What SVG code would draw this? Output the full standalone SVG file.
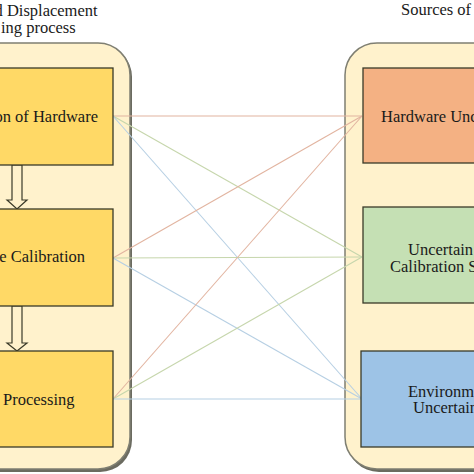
<svg xmlns="http://www.w3.org/2000/svg" width="474" height="474" viewBox="0 0 474 474">
<style>
text{font-family:"Liberation Serif","Times New Roman",serif;font-size:16.5px;fill:#1a1a1a}
.cont{fill:#FFF2CC;stroke:#7f7f72;stroke-width:1.5}
.shadow{fill:#6b6b60}
.box{stroke:#3a3a28;stroke-width:1.3}
.arr{fill:#FFF2CC;stroke:#3a3a28;stroke-width:1.2}
.c line{stroke-width:1.1}
.o{stroke:#e2b4a0}
.g{stroke:#c6d6ac}
.b{stroke:#b6cfe3}
</style>
<rect width="474" height="474" fill="#ffffff"/>
<text x="-5.5" y="16">d Displacement</text>
<text x="1" y="33">ing process</text>
<text x="401" y="15">Sources of</text>
<g id="left-container">
<rect class="shadow" x="-58" y="45" width="190" height="427" rx="32"/>
<rect class="cont" x="-60" y="43" width="190" height="426" rx="32"/>
</g>
<g id="right-container">
<rect class="shadow" x="347" y="45" width="200" height="427" rx="32"/>
<rect class="cont" x="345" y="43" width="200" height="426" rx="32"/>
</g>
<g class="c" id="connectors">
<line class="o" x1="113" y1="116" x2="362" y2="116"/>
<line class="g" x1="113" y1="116" x2="362" y2="257"/>
<line class="b" x1="113" y1="116" x2="362" y2="399"/>
<line class="o" x1="113" y1="258" x2="362" y2="116"/>
<line class="g" x1="113" y1="258" x2="362" y2="257"/>
<line class="b" x1="113" y1="258" x2="362" y2="399"/>
<line class="o" x1="113" y1="399" x2="362" y2="116"/>
<line class="g" x1="113" y1="399" x2="362" y2="257"/>
<line class="b" x1="113" y1="399" x2="362" y2="399"/>
</g>
<g id="flow-arrows">
<path class="arr" d="M12,165 L22,165 L22,200 L27,200 L17,209 L7,200 L12,200 Z"/>
<path class="arr" d="M12,306 L22,306 L22,343 L27,343 L17,351 L7,343 L12,343 Z"/>
</g>
<g id="node-hardware-config">
<rect class="box" x="-80" y="68" width="193" height="97" fill="#FFD966"/>
<text x="98" y="122" text-anchor="end">on of Hardware</text>
</g>
<g id="node-calibration">
<rect class="box" x="-80" y="209" width="193" height="97" fill="#FFD966"/>
<text x="85" y="262" text-anchor="end">e Calibration</text>
</g>
<g id="node-processing">
<rect class="box" x="-80" y="351" width="193" height="96" fill="#FFD966"/>
<text x="3" y="405">Processing</text>
</g>
<g id="node-hardware-unc">
<rect class="box" x="363" y="68" width="200" height="95" fill="#F4B183"/>
<text x="381" y="122">Hardware Unc</text>
</g>
<g id="node-calibration-unc">
<rect class="box" x="363" y="207" width="200" height="96" fill="#C5E0B4"/>
<text x="408" y="255">Uncertain</text>
<text x="390" y="272">Calibration S</text>
</g>
<g id="node-environment-unc">
<rect class="box" x="361" y="351" width="200" height="96" fill="#9DC3E6"/>
<text x="408" y="397">Environm</text>
<text x="413" y="413">Uncertain</text>
</g>
</svg>
